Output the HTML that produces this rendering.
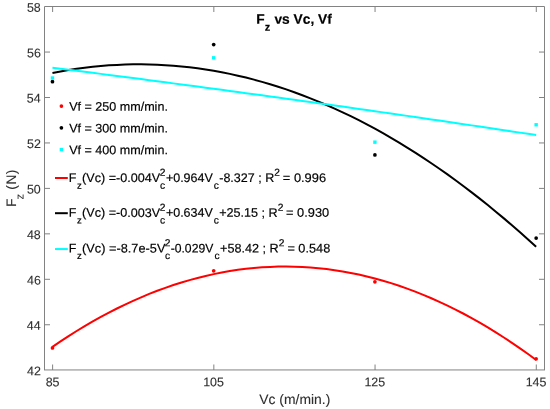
<!DOCTYPE html>
<html><head><meta charset="utf-8"><title>Fz vs Vc, Vf</title>
<style>
html,body{margin:0;padding:0;background:#fff;}
svg{display:block;}
text{font-family:"Liberation Sans",sans-serif;fill:#2e2e2e;stroke:#2e2e2e;stroke-width:0.1px;font-kerning:none;white-space:pre;}
.k{fill:#000;stroke:#000;stroke-width:0.18px;}
.b{font-weight:bold;fill:#000;stroke:#000;stroke-width:0.2px;}
</style></head><body>
<svg width="550" height="409" viewBox="0 0 550 409">
<rect x="0" y="0" width="550" height="409" fill="#ffffff"/>
<polyline points="52.46,346.83 60.52,341.36 68.58,336.09 76.65,331.00 84.71,326.12 92.77,321.42 100.83,316.92 108.89,312.61 116.95,308.49 125.01,304.57 133.07,300.83 141.14,297.30 149.20,293.95 157.26,290.79 165.32,287.83 173.38,285.07 181.44,282.49 189.50,280.11 197.56,277.92 205.63,275.92 213.69,274.11 221.75,272.50 229.81,271.08 237.87,269.86 245.93,268.82 253.99,267.98 262.05,267.33 270.12,266.88 278.18,266.61 286.24,266.54 294.30,266.66 302.36,266.98 310.42,267.49 318.48,268.19 326.55,269.08 334.61,270.17 342.67,271.45 350.73,272.92 358.79,274.58 366.85,276.44 374.91,278.49 382.97,280.73 391.04,283.16 399.10,285.79 407.16,288.61 415.22,291.62 423.28,294.83 431.34,298.23 439.40,301.82 447.46,305.60 455.53,309.58 463.59,313.75 471.65,318.11 479.71,322.66 487.77,327.41 495.83,332.35 503.89,337.48 511.95,342.81 520.02,348.33 528.08,354.04 536.14,359.94" fill="none" stroke="#ff0000" stroke-width="2" stroke-linejoin="round"/>
<polyline points="52.46,72.98 60.52,71.45 68.58,70.06 76.65,68.82 84.71,67.73 92.77,66.80 100.83,66.01 108.89,65.37 116.95,64.89 125.01,64.55 133.07,64.37 141.14,64.33 149.20,64.45 157.26,64.72 165.32,65.13 173.38,65.70 181.44,66.42 189.50,67.28 197.56,68.30 205.63,69.47 213.69,70.79 221.75,72.26 229.81,73.88 237.87,75.65 245.93,77.57 253.99,79.64 262.05,81.86 270.12,84.23 278.18,86.75 286.24,89.42 294.30,92.24 302.36,95.22 310.42,98.34 318.48,101.61 326.55,105.04 334.61,108.61 342.67,112.33 350.73,116.21 358.79,120.23 366.85,124.41 374.91,128.73 382.97,133.21 391.04,137.84 399.10,142.61 407.16,147.54 415.22,152.62 423.28,157.85 431.34,163.22 439.40,168.75 447.46,174.43 455.53,180.26 463.59,186.24 471.65,192.37 479.71,198.65 487.77,205.08 495.83,211.66 503.89,218.39 511.95,225.28 520.02,232.31 528.08,239.49 536.14,246.82" fill="none" stroke="#000000" stroke-width="2" stroke-linejoin="round"/>
<polyline points="52.46,67.71 60.52,68.73 68.58,69.75 76.65,70.78 84.71,71.81 92.77,72.84 100.83,73.88 108.89,74.92 116.95,75.96 125.01,77.01 133.07,78.06 141.14,79.11 149.20,80.17 157.26,81.23 165.32,82.30 173.38,83.37 181.44,84.44 189.50,85.51 197.56,86.59 205.63,87.67 213.69,88.76 221.75,89.85 229.81,90.94 237.87,92.04 245.93,93.14 253.99,94.24 262.05,95.35 270.12,96.46 278.18,97.57 286.24,98.69 294.30,99.81 302.36,100.94 310.42,102.06 318.48,103.20 326.55,104.33 334.61,105.47 342.67,106.61 350.73,107.76 358.79,108.91 366.85,110.06 374.91,111.22 382.97,112.38 391.04,113.54 399.10,114.71 407.16,115.88 415.22,117.05 423.28,118.23 431.34,119.41 439.40,120.59 447.46,121.78 455.53,122.97 463.59,124.17 471.65,125.37 479.71,126.57 487.77,127.77 495.83,128.98 503.89,130.20 511.95,131.41 520.02,132.63 528.08,133.86 536.14,135.08" fill="none" stroke="#00ffff" stroke-width="2" stroke-linejoin="round"/>
<circle cx="52.46" cy="347.93" r="1.85" fill="#ff0000"/>
<circle cx="213.69" cy="270.80" r="1.85" fill="#ff0000"/>
<circle cx="374.91" cy="281.80" r="1.85" fill="#ff0000"/>
<circle cx="536.14" cy="358.84" r="1.85" fill="#ff0000"/>
<circle cx="52.46" cy="81.71" r="1.85" fill="#000"/>
<circle cx="213.69" cy="44.62" r="1.85" fill="#000"/>
<circle cx="374.91" cy="154.90" r="1.85" fill="#000"/>
<circle cx="536.14" cy="238.10" r="1.85" fill="#000"/>
<rect x="50.76" y="76.32" width="3.4" height="3.4" fill="#00ffff"/>
<rect x="211.99" y="56.12" width="3.4" height="3.4" fill="#00ffff"/>
<rect x="373.21" y="140.45" width="3.4" height="3.4" fill="#00ffff"/>
<rect x="534.44" y="123.07" width="3.4" height="3.4" fill="#00ffff"/>
<g stroke="#828282" stroke-width="1" fill="none">
<path d="M44.5 370.0 V6.5 H544.5 V370.0"/>
<line x1="44" y1="369.95" x2="545" y2="369.95" stroke-width="1"/>
<line x1="52.61" y1="370.0" x2="52.61" y2="364.5"/>
<line x1="52.61" y1="6.5" x2="52.61" y2="12.0"/>
<line x1="213.84" y1="370.0" x2="213.84" y2="364.5"/>
<line x1="213.84" y1="6.5" x2="213.84" y2="12.0"/>
<line x1="375.06" y1="370.0" x2="375.06" y2="364.5"/>
<line x1="375.06" y1="6.5" x2="375.06" y2="12.0"/>
<line x1="536.29" y1="370.0" x2="536.29" y2="364.5"/>
<line x1="536.29" y1="6.5" x2="536.29" y2="12.0"/>
<line x1="44.5" y1="324.75" x2="50.0" y2="324.75"/>
<line x1="544.5" y1="324.75" x2="539.0" y2="324.75"/>
<line x1="44.5" y1="279.30" x2="50.0" y2="279.30"/>
<line x1="544.5" y1="279.30" x2="539.0" y2="279.30"/>
<line x1="44.5" y1="233.85" x2="50.0" y2="233.85"/>
<line x1="544.5" y1="233.85" x2="539.0" y2="233.85"/>
<line x1="44.5" y1="188.40" x2="50.0" y2="188.40"/>
<line x1="544.5" y1="188.40" x2="539.0" y2="188.40"/>
<line x1="44.5" y1="142.95" x2="50.0" y2="142.95"/>
<line x1="544.5" y1="142.95" x2="539.0" y2="142.95"/>
<line x1="44.5" y1="97.50" x2="50.0" y2="97.50"/>
<line x1="544.5" y1="97.50" x2="539.0" y2="97.50"/>
<line x1="44.5" y1="52.05" x2="50.0" y2="52.05"/>
<line x1="544.5" y1="52.05" x2="539.0" y2="52.05"/>
</g>
<text transform="matrix(0.9953,0.0006,0,1,45.63,386.20)" font-size="12.5">85</text>
<text transform="matrix(0.9953,0.0006,0,1,203.20,386.20)" font-size="12.5">105</text>
<text transform="matrix(0.9953,0.0006,0,1,364.42,386.20)" font-size="12.5">125</text>
<text transform="matrix(0.9953,0.0006,0,1,525.65,386.20)" font-size="12.5">145</text>
<text transform="matrix(0.9953,0.0006,0,1,27.04,375.30)" font-size="12.5">42</text>
<text transform="matrix(0.9953,0.0006,0,1,26.78,329.85)" font-size="12.5">44</text>
<text transform="matrix(0.9953,0.0006,0,1,26.96,284.40)" font-size="12.5">46</text>
<text transform="matrix(0.9953,0.0006,0,1,26.95,238.95)" font-size="12.5">48</text>
<text transform="matrix(0.9953,0.0006,0,1,26.90,193.50)" font-size="12.5">50</text>
<text transform="matrix(0.9953,0.0006,0,1,27.04,148.05)" font-size="12.5">52</text>
<text transform="matrix(0.9953,0.0006,0,1,26.78,102.60)" font-size="12.5">54</text>
<text transform="matrix(0.9953,0.0006,0,1,26.96,57.15)" font-size="12.5">56</text>
<text transform="matrix(0.9953,0.0006,0,1,26.95,11.70)" font-size="12.5">58</text>
<text transform="matrix(1.0121,0.0006,0,1,259.24,403.90)" font-size="13.75">Vc (m/min.)</text>
<text transform="matrix(0.0006,-1,1,0,15.90,206.91)" font-size="13.75">F</text>
<text transform="matrix(0.0006,-1,1,0,23.40,199.40)" font-size="11">z</text>
<text transform="matrix(0.0006,-1,1,0,15.90,189.63)" font-size="13.75">(</text>
<text transform="matrix(0.0006,-1,1,0,15.90,184.52)" font-size="13.75">N</text>
<text transform="matrix(0.0006,-1,1,0,15.90,174.20)" font-size="13.75">)</text>
<text transform="matrix(1.0000,0.0006,0,1,256.19,23.74)" font-size="13.75" class="b">F</text>
<text transform="matrix(1.0000,0.0006,0,1,264.83,30.70)" font-size="11" class="b">z</text>
<text transform="matrix(1.0001,0.0006,0,1,274.45,23.74)" font-size="13.75" class="b">vs Vc, Vf</text>
<circle cx="61.4" cy="106.05" r="1.85" fill="#ff0000"/>
<circle cx="61.4" cy="127.8" r="1.85" fill="#000"/>
<rect x="59.7" y="147.9" width="3.4" height="3.4" fill="#00ffff"/>
<text transform="matrix(1.0062,0.0006,0,1,69.14,110.75)" font-size="12.5" class="k">Vf = 250 mm/min.</text>
<text transform="matrix(1.0062,0.0006,0,1,69.14,132.40)" font-size="12.5" class="k">Vf = 300 mm/min.</text>
<text transform="matrix(1.0062,0.0006,0,1,69.14,154.20)" font-size="12.5" class="k">Vf = 400 mm/min.</text>
 <line x1="55.0" y1="178.00" x2="67.8" y2="178.00" stroke="#ff0000" stroke-width="2"/>
<text transform="matrix(1.0000,0.0006,0,1,68.64,182.05)" font-size="12.5" class="k">F</text>
<text transform="matrix(1.0000,0.0006,0,1,77.04,188.65)" font-size="9.6" class="k">z</text>
<text transform="matrix(1.0100,0.0006,0,1,82.12,182.05)" font-size="12.5" class="k">(Vc) =-0.004V</text>
<text transform="matrix(1.0000,0.0006,0,1,159.64,175.85)" font-size="10.2" class="k">2</text>
<text transform="matrix(1.0000,0.0006,0,1,159.92,188.65)" font-size="10.2" class="k">c</text>
<text transform="matrix(1.0010,0.0006,0,1,165.89,182.05)" font-size="12.5" class="k">+0.964V</text>
<text transform="matrix(1.0000,0.0006,0,1,213.67,188.65)" font-size="10.2" class="k">c</text>
<text transform="matrix(1.0027,0.0006,0,1,219.24,182.05)" font-size="12.5" class="k">-8.327 ; R</text>
<text transform="matrix(1.0000,0.0006,0,1,274.31,175.85)" font-size="10.2" class="k">2</text>
<text transform="matrix(1.0271,0.0006,0,1,282.87,182.05)" font-size="12.5" class="k">= 0.996</text>
 <line x1="55.0" y1="213.20" x2="67.8" y2="213.20" stroke="#000000" stroke-width="2"/>
<text transform="matrix(1.0000,0.0006,0,1,68.64,216.85)" font-size="12.5" class="k">F</text>
<text transform="matrix(1.0000,0.0006,0,1,77.04,223.45)" font-size="9.6" class="k">z</text>
<text transform="matrix(1.0100,0.0006,0,1,82.12,216.85)" font-size="12.5" class="k">(Vc) =-0.003V</text>
<text transform="matrix(1.0000,0.0006,0,1,159.64,210.65)" font-size="10.2" class="k">2</text>
<text transform="matrix(1.0000,0.0006,0,1,159.92,223.45)" font-size="10.2" class="k">c</text>
<text transform="matrix(1.0010,0.0006,0,1,165.89,216.85)" font-size="12.5" class="k">+0.634V</text>
<text transform="matrix(1.0000,0.0006,0,1,213.67,223.45)" font-size="10.2" class="k">c</text>
<text transform="matrix(1.0099,0.0006,0,1,219.18,216.85)" font-size="12.5" class="k">+25.15 ; R</text>
<text transform="matrix(1.0000,0.0006,0,1,277.66,210.65)" font-size="10.2" class="k">2</text>
<text transform="matrix(1.0255,0.0006,0,1,286.07,216.85)" font-size="12.5" class="k">= 0.930</text>
 <line x1="55.0" y1="249.05" x2="67.8" y2="249.05" stroke="#00ffff" stroke-width="2"/>
<text transform="matrix(1.0000,0.0006,0,1,68.64,252.40)" font-size="12.5" class="k">F</text>
<text transform="matrix(1.0000,0.0006,0,1,77.04,259.00)" font-size="9.6" class="k">z</text>
<text transform="matrix(1.0211,0.0006,0,1,82.11,252.40)" font-size="12.5" class="k">(Vc) =-8.7e-5V</text>
<text transform="matrix(1.0000,0.0006,0,1,164.74,246.20)" font-size="10.2" class="k">2</text>
<text transform="matrix(1.0000,0.0006,0,1,165.02,259.00)" font-size="10.2" class="k">c</text>
<text transform="matrix(0.9752,0.0006,0,1,170.66,252.40)" font-size="12.5" class="k">-0.029V</text>
<text transform="matrix(1.0000,0.0006,0,1,214.62,259.00)" font-size="10.2" class="k">c</text>
<text transform="matrix(1.0117,0.0006,0,1,220.08,252.40)" font-size="12.5" class="k">+58.42 ; R</text>
<text transform="matrix(1.0000,0.0006,0,1,278.66,246.20)" font-size="10.2" class="k">2</text>
<text transform="matrix(1.0196,0.0006,0,1,287.38,252.40)" font-size="12.5" class="k">= 0.548</text>
</svg></body></html>
